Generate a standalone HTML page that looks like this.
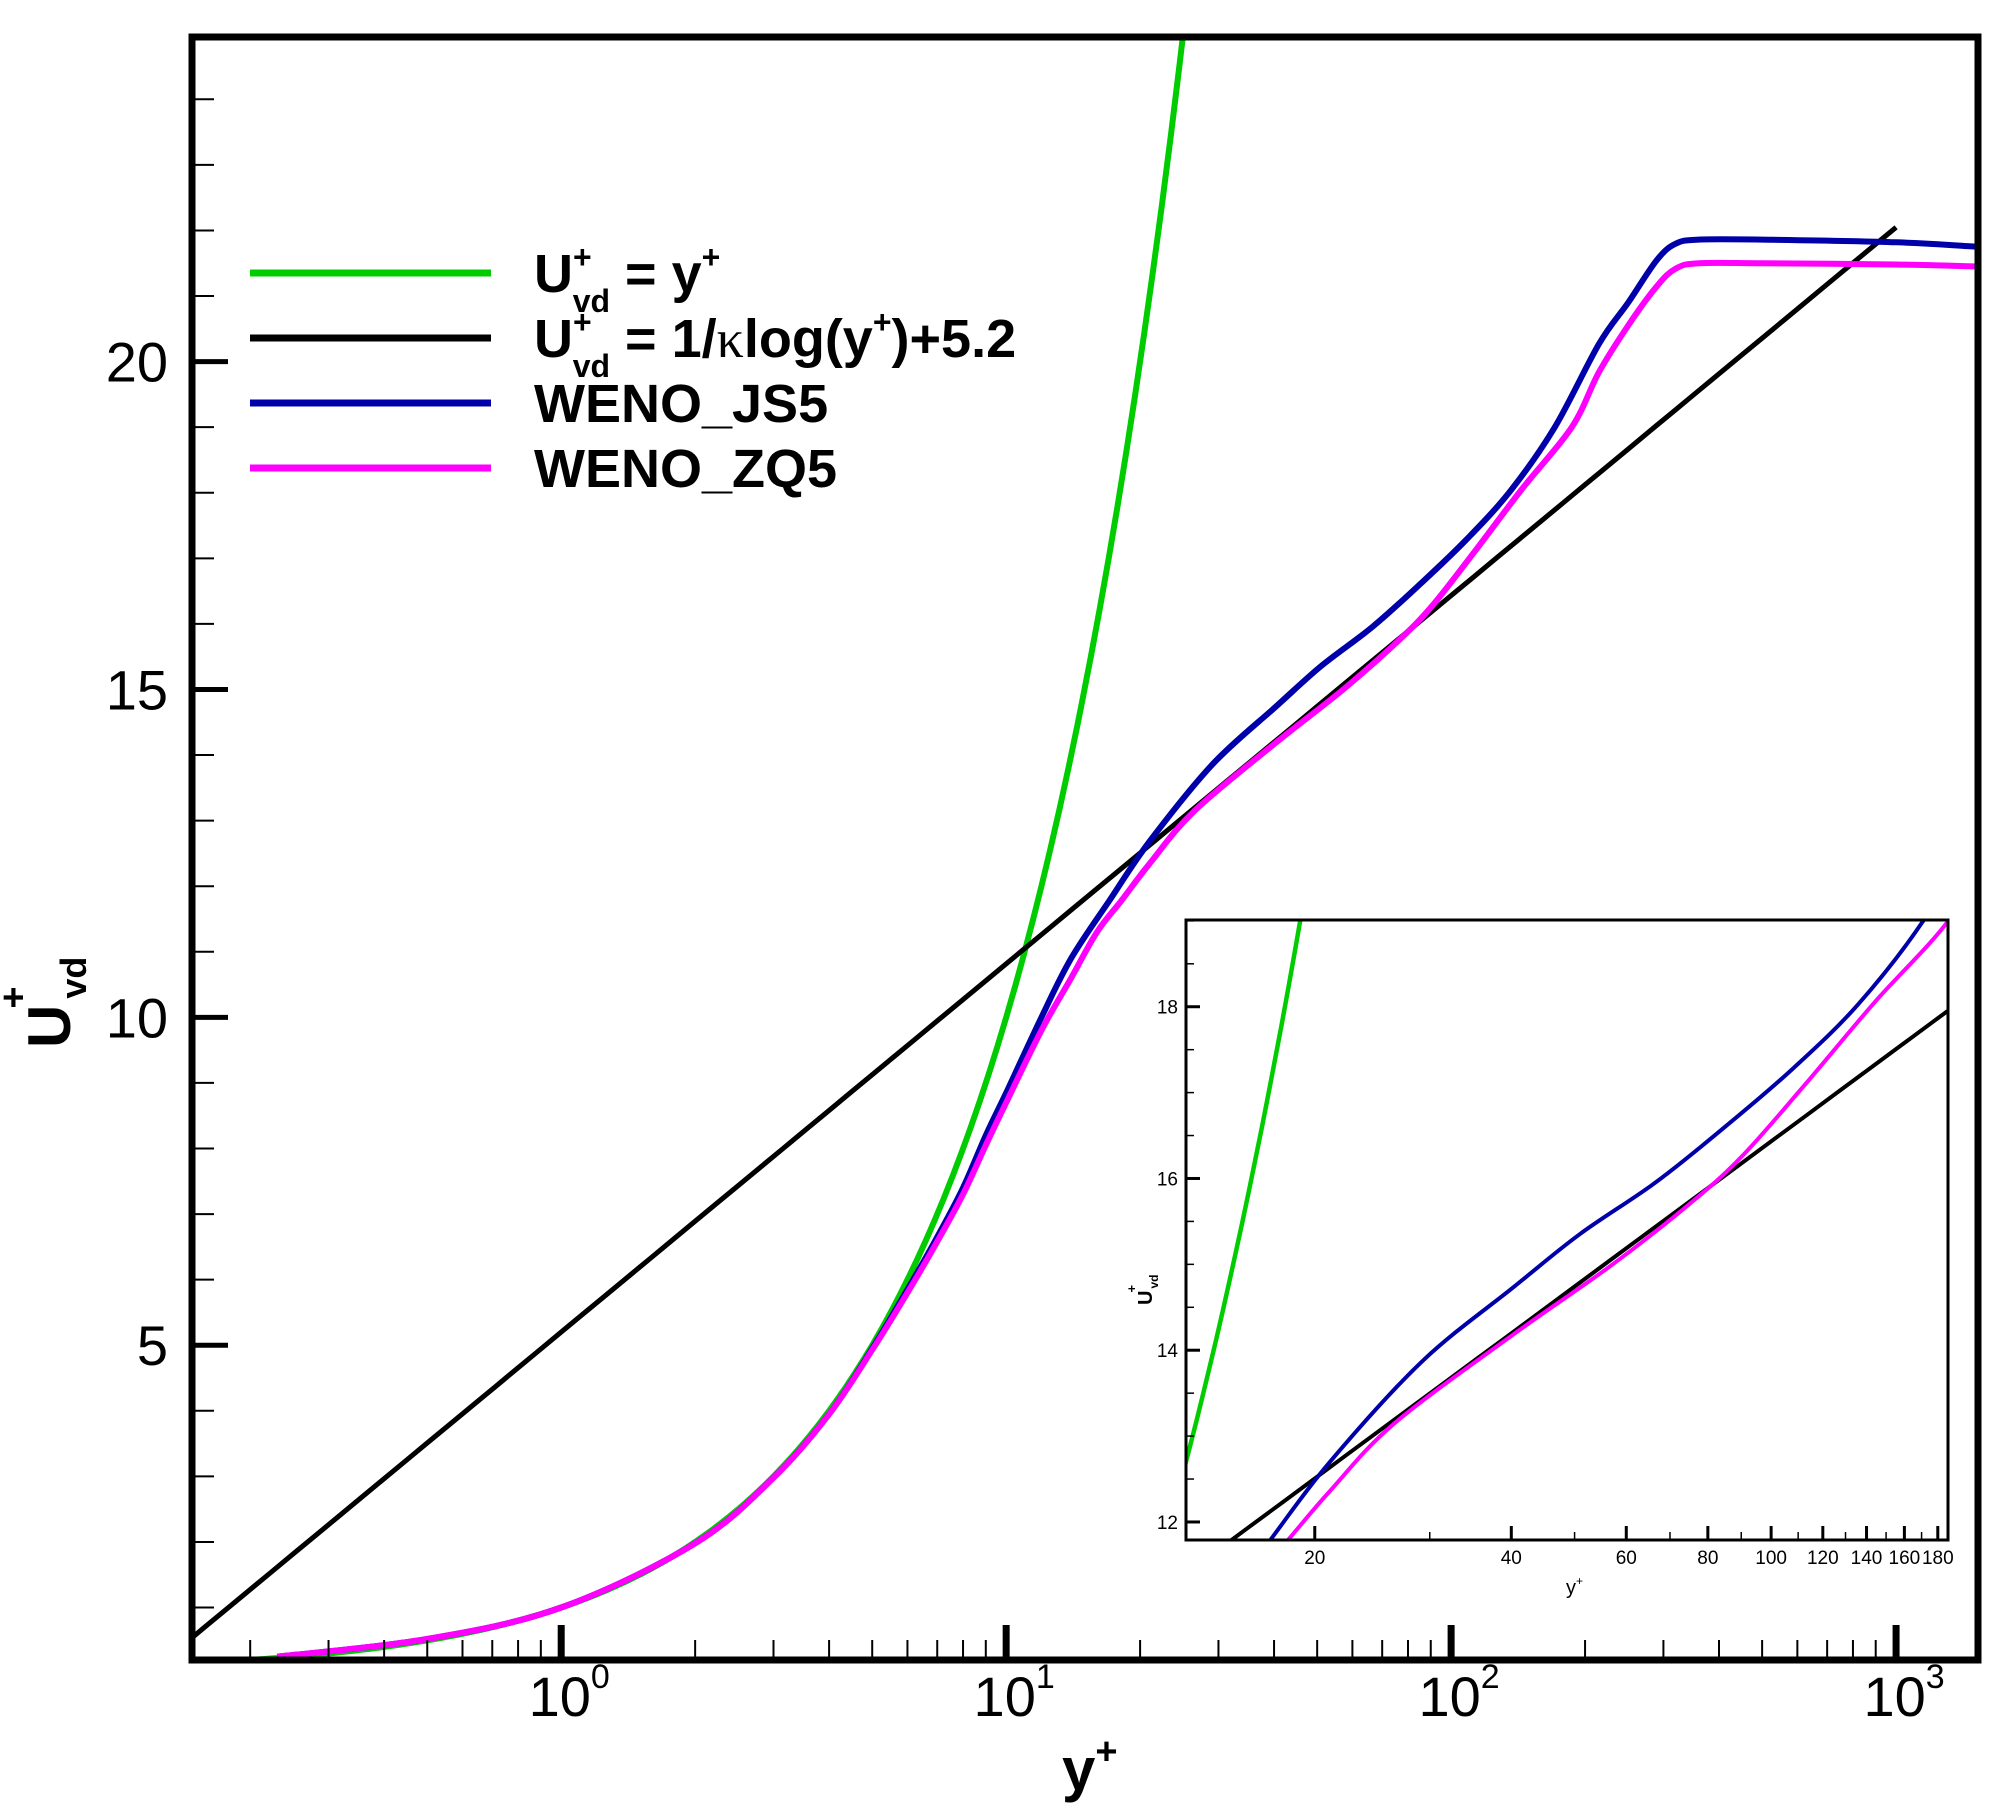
<!DOCTYPE html>
<html><head><meta charset="utf-8"><style>
html,body{margin:0;padding:0;background:#fff;overflow:hidden;width:2004px;height:1812px;}
svg{display:block;font-family:"Liberation Sans",Arial,sans-serif;}
</style></head><body>
<svg id="chart" width="2004" height="1812" viewBox="0 0 2004 1812" xmlns="http://www.w3.org/2000/svg">
<defs>
<clipPath id="mainClip"><rect x="192" y="37" width="1786" height="1623"/></clipPath>
<clipPath id="insetClip"><rect x="1186" y="920" width="762" height="620"/></clipPath>
</defs>
<g id="main"></g>
<g id="inset"></g>
<g id="legend"></g>
</svg>
<script>
// ---- data ----
const yPlusJS5 = [0.23,0.5,1,2,3,4,5,6,7,8,9,10,12,14,17.1,21.1,29.2,40.4,50.9,66.7,85.6,108,136,171,215,250,290,320,360,500,1000,1528];
const uJS5     = [0.25,0.52,1.0,1.98,2.98,3.95,4.95,5.85,6.65,7.4,8.2,8.85,10.0,10.9,11.79,12.70,13.87,14.74,15.35,15.96,16.62,17.28,18.03,19.0,20.27,20.9,21.55,21.8,21.86,21.86,21.82,21.75];
const yPlusZQ5 = [0.23,0.5,1,2,3,4,5,6,7,8,9,10,12,14,16,18.2,21.1,26.5,40.4,57.2,76.3,90.8,112,144,186.7,215,250,290,320,360,500,1000,1528];
const uZQ5     = [0.25,0.52,1.0,1.98,2.98,3.95,4.93,5.8,6.58,7.3,8.05,8.7,9.8,10.6,11.3,11.79,12.36,13.15,14.19,15.0,15.75,16.28,17.07,18.05,19.0,19.84,20.55,21.15,21.42,21.5,21.5,21.48,21.45];
const kappa = 0.41, logB = 5.2;
const yTicksMain = [5,10,15,20];
const xDecades = [0,1,2,3];
const insetYTicks = [12,14,16,18];
const insetXTicks = [20,40,60,80,100,120,140,160,180];

const NS="http://www.w3.org/2000/svg";
function mk(tag,attrs,parent){const e=document.createElementNS(NS,tag);for(const k in attrs)e.setAttribute(k,attrs[k]);parent.appendChild(e);return e;}

const mX0=192,mX1=1978,mY0=37,mY1=1660;
const xMinL=Math.log10(0.148), xMaxL=Math.log10(1528);
const yMin=0.2,yMax=24.95;
const mx=v=>mX0+(Math.log10(v)-xMinL)/(xMaxL-xMinL)*(mX1-mX0);
const my=v=>mY1-(v-yMin)/(yMax-yMin)*(mY1-mY0);
const iX0=1186,iX1=1948,iY0=920,iY1=1540;
const ixMinL=Math.log10(12.7), ixMaxL=Math.log10(186.6);
const iyMin=11.79,iyMax=19.01;
const ix=v=>iX0+(Math.log10(v)-ixMinL)/(ixMaxL-ixMinL)*(iX1-iX0);
const iy=v=>iY1-(v-iyMin)/(iyMax-iyMin)*(iY1-iY0);

function pathFrom(xs,ys,fx,fy){return xs.map((x,i)=>(i?'L':'M')+fx(x).toFixed(1)+' '+fy(ys[i]).toFixed(1)).join(' ');}
function smoothPath(xs,ys,fx,fy){
  const p=xs.map((x,i)=>[fx(x),fy(ys[i])]);
  let d='M'+p[0][0].toFixed(1)+' '+p[0][1].toFixed(1);
  for(let i=0;i<p.length-1;i++){
    const p0=p[Math.max(0,i-1)],p1=p[i],p2=p[i+1],p3=p[Math.min(p.length-1,i+2)];
    const c1=[p1[0]+(p2[0]-p0[0])/6,p1[1]+(p2[1]-p0[1])/6];
    const c2=[p2[0]-(p3[0]-p1[0])/6,p2[1]-(p3[1]-p1[1])/6];
    d+=' C'+c1.map(v=>v.toFixed(1)).join(' ')+' '+c2.map(v=>v.toFixed(1)).join(' ')+' '+p2[0].toFixed(1)+' '+p2[1].toFixed(1);
  }
  return d;
}
const linX=[],linY=[],logX=[],logY=[];
for(let l=-0.9;l<=1.45;l+=0.01){const v=Math.pow(10,l);linX.push(v);linY.push(v);}
for(let l=-0.9;l<=3.0001;l+=0.05){const v=Math.pow(10,l);logX.push(v);logY.push(Math.log(v)/kappa+logB);}

const main=document.getElementById('main');
const cm=mk('g',{'clip-path':'url(#mainClip)'},main);
let e;
e=mk('path',{d:pathFrom(linX,linY,mx,my),fill:'none',stroke:'#00cc00','stroke-width':6},cm);


e=mk('path',{d:pathFrom(logX,logY,mx,my),fill:'none',stroke:'#000','stroke-width':5},cm);


e=mk('path',{d:smoothPath(yPlusJS5,uJS5,mx,my),fill:'none',stroke:'#0000aa','stroke-width':6},cm);


e=mk('path',{d:smoothPath(yPlusZQ5,uZQ5,mx,my),fill:'none',stroke:'#ff00ff','stroke-width':6},cm);



for(let v=1;v<=24;v++){
  const major=yTicksMain.includes(v);
  mk('line',{x1:mX0,x2:mX0+(major?36:22),y1:my(v),y2:my(v),stroke:'#000','stroke-width':major?5:2},main);
}
yTicksMain.forEach(v=>{
  e=mk('text',{x:168,y:my(v)+20,'text-anchor':'end','font-size':56},main);
  e.textContent=v;
  
  
});
for(let d=-1;d<=3;d++){
  for(let m=1;m<=9;m++){
    const v=m*Math.pow(10,d);
    if(v<0.148||v>1528)continue;
    const major=m===1;
    mk('line',{x1:mx(v),x2:mx(v),y1:mY1,y2:mY1-(major?35:20),stroke:'#000','stroke-width':major?7:2},main);
  }
}
xDecades.forEach(dd=>{
  const t=mk('text',{x:mx(Math.pow(10,dd))+8,y:1716,'text-anchor':'middle','font-size':56},main);
  
  
  t.appendChild(document.createTextNode('10'));
  const s=mk('tspan',{dy:-28,'font-size':34},t);s.textContent=dd;
});
e=mk('rect',{x:mX0,y:mY0,width:mX1-mX0,height:mY1-mY0,fill:'none',stroke:'#000','stroke-width':7},main);


e=mk('text',{x:1062,y:1790,'font-size':60,'font-weight':'bold'},main);


e.textContent='y';
let sp=mk('tspan',{dy:-26,'font-size':38},e);sp.textContent='+';
e=mk('text',{transform:'translate(70,1048) rotate(-90)','font-size':60,'font-weight':'bold'},main);


e.textContent='U';
sp=mk('tspan',{dx:6,dy:16,'font-size':36},e);sp.textContent='vd';
sp=mk('tspan',{dx:-52,dy:-60,'font-size':38},e);sp.textContent='+';

const inset=document.getElementById('inset');
mk('rect',{x:iX0,y:iY0,width:iX1-iX0,height:iY1-iY0,fill:'#fff',stroke:'none'},inset);
const ci=mk('g',{'clip-path':'url(#insetClip)'},inset);
e=mk('path',{d:pathFrom(linX,linY,ix,iy),fill:'none',stroke:'#00cc00','stroke-width':4.5},ci);


e=mk('path',{d:pathFrom(logX,logY,ix,iy),fill:'none',stroke:'#000','stroke-width':4},ci);


e=mk('path',{d:smoothPath(yPlusJS5,uJS5,ix,iy),fill:'none',stroke:'#0000aa','stroke-width':4},ci);


e=mk('path',{d:smoothPath(yPlusZQ5,uZQ5,ix,iy),fill:'none',stroke:'#ff00ff','stroke-width':4},ci);


for(let v=12;v<=19;v+=0.5){
  const major=insetYTicks.includes(v);
  mk('line',{x1:iX0,x2:iX0+(major?14:8),y1:iy(v),y2:iy(v),stroke:'#000','stroke-width':major?3:1.5},inset);
}
insetYTicks.forEach(v=>{
  e=mk('text',{x:iX0-8,y:iy(v)+7,'text-anchor':'end','font-size':19},inset);
  e.textContent=v;
  
  
});
for(let v=20;v<=180;v+=10){
  const major=insetXTicks.includes(v);
  mk('line',{x1:ix(v),x2:ix(v),y1:iY1,y2:iY1-(major?14:8),stroke:'#000','stroke-width':major?3:1.5},inset);
}
insetXTicks.forEach(v=>{
  e=mk('text',{x:ix(v),y:iY1+24,'text-anchor':'middle','font-size':19},inset);
  e.textContent=v;
  
  
});
e=mk('rect',{x:iX0,y:iY0,width:iX1-iX0,height:iY1-iY0,fill:'none',stroke:'#000','stroke-width':3},inset);


e=mk('text',{x:1566,y:1594,'font-size':20},inset);


e.textContent='y';
sp=mk('tspan',{dy:-9,'font-size':12},e);sp.textContent='+';
e=mk('text',{transform:'translate(1152,1305) rotate(-90)','font-size':20,'font-weight':'bold'},inset);


e.textContent='U';
sp=mk('tspan',{dx:2,dy:6,'font-size':12},e);sp.textContent='vd';
sp=mk('tspan',{dx:-18,dy:-22,'font-size':13},e);sp.textContent='+';

const legend=document.getElementById('legend');
const legColors=['#00cc00','#000000','#0000aa','#ff00ff'];
const legNames=['legend-viscous','legend-log-law','legend-weno-js5','legend-weno-zq5'];
legColors.forEach((c,i)=>{
  const y=273+i*65;
  const g=mk('g',{},legend);
  
  
  mk('line',{x1:250,x2:491,y1:y,y2:y,stroke:c,'stroke-width':7},g);
  const t=mk('text',{x:534,y:y+19,'font-size':54,'font-weight':'bold'},g);
  if(i<2){
    t.appendChild(document.createTextNode('U'));
    let s=mk('tspan',{dy:-24,'font-size':32},t);s.textContent='+';
    s=mk('tspan',{dx:-19,dy:44,'font-size':32},t);s.textContent='vd';
    s=mk('tspan',{dy:-20},t);s.textContent=' = ';
    if(i===0){s=mk('tspan',{},t);s.textContent='y';s=mk('tspan',{dy:-24,'font-size':32},t);s.textContent='+';}
    else{
      s=mk('tspan',{},t);s.textContent='1/';
      s=mk('tspan',{'font-weight':'normal','font-family':'Liberation Serif, serif'},t);s.textContent='κ';
      s=mk('tspan',{},t);s.textContent='log(y';
      s=mk('tspan',{dy:-24,'font-size':32},t);s.textContent='+';
      s=mk('tspan',{dy:24},t);s.textContent=')+5.2';
    }
  } else {
    t.textContent=i===2?'WENO_JS5':'WENO_ZQ5';
  }
});
</script>
</body></html>
